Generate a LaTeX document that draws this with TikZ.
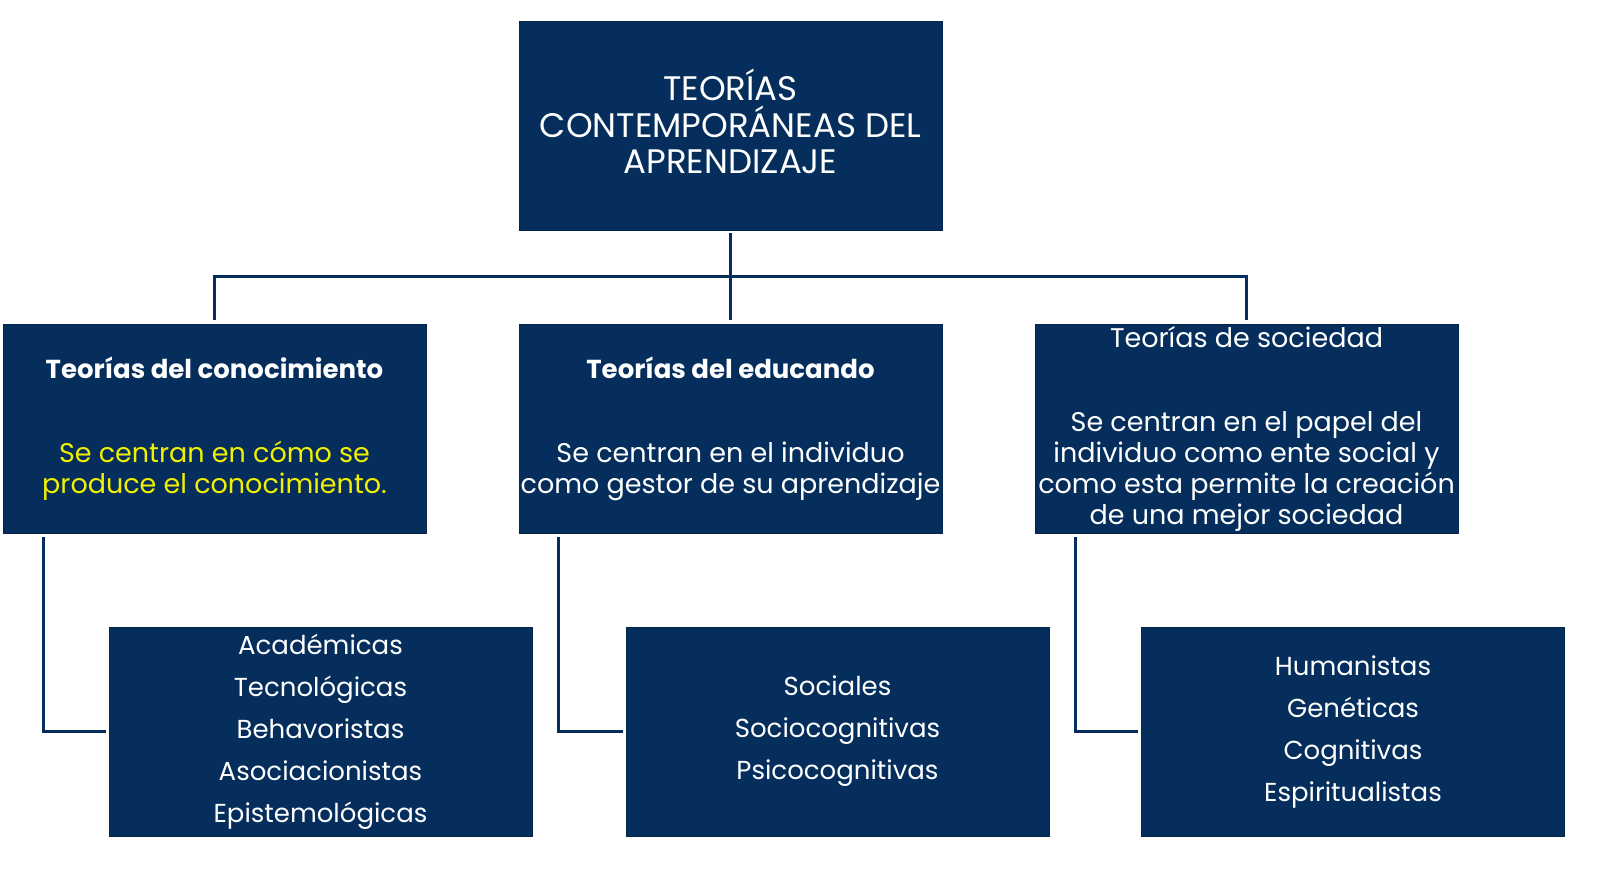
\documentclass[tikz,border=0pt]{standalone}
\usepackage{fontspec}
\setmainfont{Poppins}
\definecolor{navy}{RGB}{5,46,92}
\definecolor{yel}{RGB}{240,240,0}
\begin{document}
\begin{tikzpicture}[x=0.5pt,y=-0.5pt,
  box/.style={fill=navy,draw=navy!80!black,line width=0.4pt,minimum width=211.5pt,minimum height=104.5pt,inner sep=0pt,text=white,align=center,font=\fontsize{13.5}{15.5}\selectfont},
  topbox/.style={box,font=\fontsize{17}{18.25}\selectfont},
  subbox/.style={box,font=\fontsize{13}{21}\selectfont},
  conn/.style={draw=navy,line width=1.5pt}]
\useasboundingbox (0,0) rectangle (1600,873);
\node[topbox] (top) at (730.5,125.5) {TEORÍAS\\CONTEMPORÁNEAS DEL\\APRENDIZAJE\rule[-4pt]{0pt}{4pt}};
\node[box] (left) at (214.5,428.5) {\textbf{\fontsize{13}{15.5}\selectfont Teorías del conocimiento}\\[26.5pt]\color{yel}Se centran en cómo se\\\color{yel}produce el conocimiento.};
\node[box] (mid) at (730.5,428.5) {\textbf{\fontsize{13}{15.5}\selectfont Teorías del educando}\\[26.5pt]Se centran en el individuo\\como gestor de su aprendizaje};
\node[box] (right) at (1246.5,428.5) {Teorías de sociedad\\[26.5pt]Se centran en el papel del\\individuo como ente social y\\como esta permite la creación\\de una mejor sociedad};
\node[subbox] (lsub) at (320.5,731.5) {Académicas\\Tecnológicas\\Behavoristas\\Asociacionistas\\Epistemológicas};
\node[subbox] (msub) at (837.5,731.5) {Sociales\\Sociocognitivas\\Psicocognitivas};
\node[subbox] (rsub) at (1353,731.5) {Humanistas\\Genéticas\\Cognitivas\\Espiritualistas};
\coordinate (bus) at (730.5,276);
\draw[conn,shorten <=1.5pt,shorten >=2pt] (top.south) -- (mid.north);
\draw[conn,shorten <=2pt,shorten >=2pt] (left.north) |- (bus) -| (right.north);
\draw[conn,shorten <=2pt,shorten >=1.5pt] ([xshift=20.5pt]left.south west) |- (lsub.west);
\draw[conn,shorten <=2pt,shorten >=1.5pt] ([xshift=20pt]mid.south west) |- (msub.west);
\draw[conn,shorten <=2pt,shorten >=1.5pt] ([xshift=20.5pt]right.south west) |- (rsub.west);
\end{tikzpicture}
\end{document}
